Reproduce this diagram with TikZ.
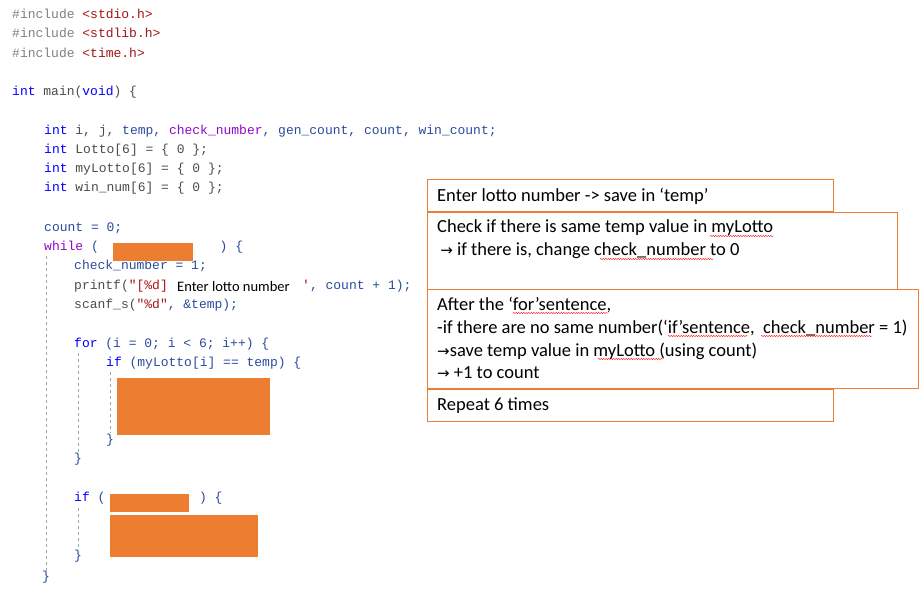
\documentclass[tikz,border=0pt]{standalone}
\usepackage{fontspec}
\setmonofont{Liberation Mono}
\setmainfont{Carlito}
\newfontfamily\dejavu{DejaVu Sans}
\usetikzlibrary{decorations.pathmorphing}
\definecolor{kw}{HTML}{0000FF}
\definecolor{wh}{HTML}{8F08C4}
\definecolor{var}{HTML}{2B4A9C}
\definecolor{str}{HTML}{A31515}
\definecolor{inc}{HTML}{808080}
\definecolor{org}{HTML}{ED7D31}
\newcommand{\arr}{{\dejavu\fontsize{15}{16}\selectfont →}}
\begin{document}
\begin{tikzpicture}[x=1pt,y=-1pt,
  code/.style={anchor=west,inner sep=0pt,font=\ttfamily\fontsize{13}{14}\selectfont,text=var},
  note/.style={anchor=west,inner sep=0pt,font=\fontsize{18.5}{20}\selectfont},
  hide/.style={fill=org,draw=none},
  obox/.style={draw=org,line width=0.9pt},
  guide/.style={draw=black!35,dashed,line width=0.5pt},
  squig/.style={draw=red,line width=0.4pt,decorate,decoration={snake,amplitude=0.6pt,segment length=2.5pt}}]
\useasboundingbox (0,0) rectangle (923,599);
% code
\node[code] (c1) at (12,14) {\textcolor{inc}{\#include} \textcolor{str}{<stdio.h>}};
\node[code] (c2) at (12,33) {\textcolor{inc}{\#include} \textcolor{str}{<stdlib.h>}};
\node[code] (c3) at (12,53) {\textcolor{inc}{\#include} \textcolor{str}{<time.h>}};
\node[code] (c4) at (12,92) {\textcolor{kw}{int} \textcolor{black!70}{main(}\textcolor{kw}{void}\textcolor{black!70}{) \{}};
\node[code] (c5) at (44,131) {\textcolor{kw}{int} \textcolor{black!70}{i, j,} temp, \textcolor{wh}{check\_number}, gen\_count, count, win\_count;};
\node[code] (c6) at (44,150) {\textcolor{kw}{int} \textcolor{black!70}{Lotto[6] = \{ 0 \};}};
\node[code] (c7) at (44,169) {\textcolor{kw}{int} \textcolor{black!70}{myLotto[6] = \{ 0 \};}};
\node[code] (c8) at (44,188) {\textcolor{kw}{int} \textcolor{black!70}{win\_num[6] = \{ 0 \};}};
\node[code] (c9) at (44,228) {count = 0;};
\node[code] (c10) at (44,247) {\textcolor{wh}{while} (\hspace{9.3em}) \{};
\node[code] (c11) at (74,266) {check\_number = 1;};
\node[code] (c12) at (74,286) {\textcolor{black!70}{printf(}\textcolor{str}{"[\%d]}};
\node[note,font=\fontsize{14.5}{16}\selectfont] (c12b) at (177,287) {Enter lotto number};
\node[code] (c12c) at (302,286) {\textcolor{str}{'}, count + 1);};
\node[code] (c13) at (74,305) {\textcolor{black!70}{scanf\_s(}\textcolor{str}{"\%d"}, \&temp);};
\node[code] (c14) at (74,344) {\textcolor{kw}{for} (i = 0; i < 6; i++) \{};
\node[code] (c15) at (106,363) {\textcolor{kw}{if} (myLotto[i] == temp) \{};
\node[code] (c16) at (106,440) {\}};
\node[code] (c17) at (74,459) {\}};
\node[code] (c18) at (74,498) {\textcolor{kw}{if} (\hspace{7.2em}) \{};
\node[code] (c19) at (74,556) {\}};
\node[code] (c20) at (42,577) {\}};
% guides
\coordinate (g1) at (46,256); \coordinate (g2) at (46,572);
\draw[guide] (g1) -- (g2);
\coordinate (g3) at (78,353); \coordinate (g4) at (78,452);
\draw[guide] (g3) -- (g4);
\coordinate (g5) at (110,372); \coordinate (g6) at (110,433);
\draw[guide] (g5) -- (g6);
\coordinate (g7) at (78,508); \coordinate (g8) at (78,550);
\draw[guide] (g7) -- (g8);
% hidden blocks
\node[hide,minimum width=80pt,minimum height=18pt] (h1) at (153,252) {};
\node[hide,minimum width=153pt,minimum height=57pt] (h2) at (193.5,406.5) {};
\node[hide,minimum width=79pt,minimum height=18pt] (h3) at (149.5,503) {};
\node[hide,minimum width=148pt,minimum height=42pt] (h4) at (184,536) {};
% note boxes
\node[obox,minimum width=406pt,minimum height=32pt] (b1) at (630,195) {};
\node[obox,minimum width=470pt,minimum height=77pt] (b2) at (662,250.5) {};
\node[obox,minimum width=491pt,minimum height=99pt] (b3) at (672.5,338.5) {};
\node[obox,minimum width=406pt,minimum height=32pt] (b4) at (630,405) {};
\node[note] (t1) at (437,196) {Enter lotto number -> save in ‘temp’};
\node[note] (t2) at (437,228) {Check if there is same temp value in myLotto};
\node[note] (t3) at (437,251) {\,\arr\ if there is, change check\_number to 0};
\node[note] (t4) at (437,305) {After the ‘for’sentence,};
\node[note] (t5) at (437,328) {-if there are no same number(‘if’sentence,\ \ check\_number = 1)};
\node[note] (t6) at (437,351) {\arr save temp value in myLotto (using count)};
\node[note] (t7) at (437,373) {\arr\ +1 to count};
\node[note] (t8) at (437,406) {Repeat 6 times};
% spelling squiggles
\draw[squig] (710,236) -- (773,236);
\draw[squig] (600,259) -- (713,259);
\draw[squig] (513,313) -- (608,313);
\draw[squig] (668,336) -- (748,336);
\draw[squig] (761,336) -- (872,336);
\draw[squig] (598,359) -- (663,359);
\end{tikzpicture}
\end{document}
